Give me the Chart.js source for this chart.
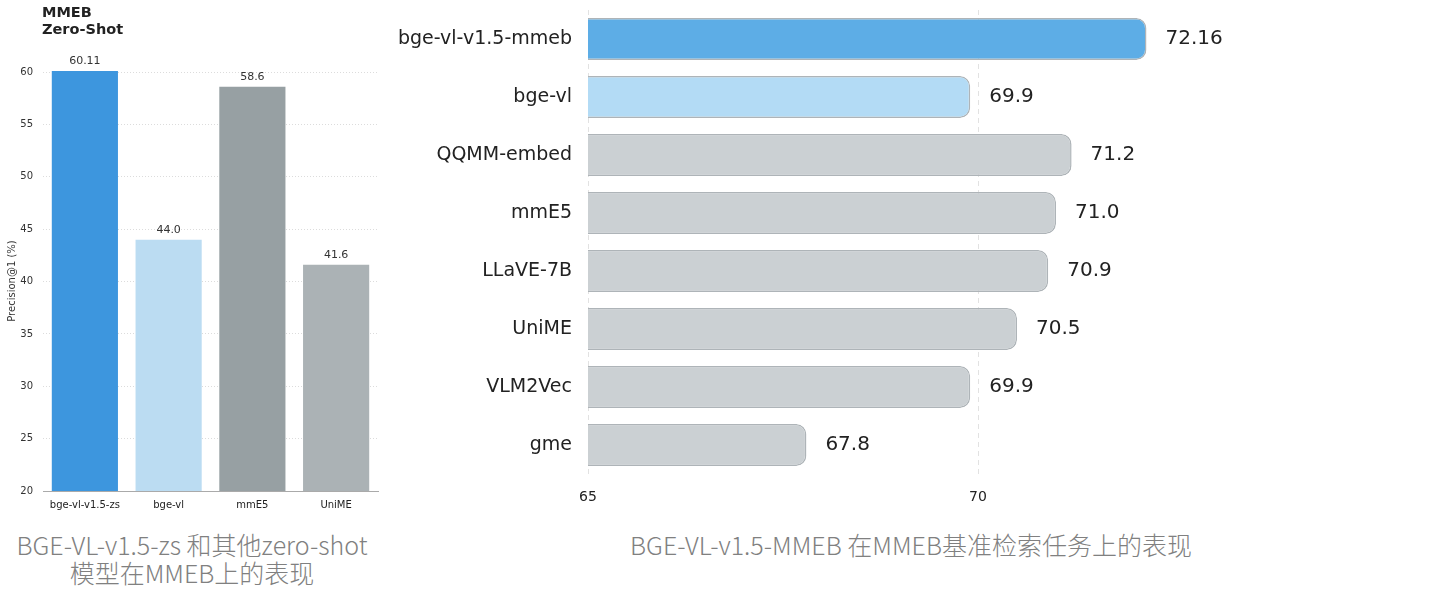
<!DOCTYPE html>
<html>
<head>
<meta charset="utf-8">
<script src="https://cdn.jsdelivr.net/npm/chart.js@4"></script>
<style>
  body { margin: 0; background: #fff; width: 1440px; height: 589px; position: relative; overflow: hidden; }
  #leftBox { position: absolute; left: 0; top: 0; width: 390px; height: 520px; }
  #rightBox { position: absolute; left: 380px; top: 0; width: 1060px; height: 520px; }
  .title { position: absolute; left: 42px; top: 4px; font: bold 14.5px "DejaVu Sans"; color: #222; line-height: 17px; }
  .caption { position: absolute; font-family: "Noto Sans CJK SC", "Noto Sans"; font-weight: 300; font-size: 25px; color: #808080; text-align: center; line-height: 28px; }
</style>
</head>
<body>
<div id="leftBox"><canvas id="leftChart"></canvas></div>
<div id="rightBox"><canvas id="rightChart"></canvas></div>
<div class="title">MMEB<br>Zero-Shot</div>
<div class="caption" style="left:0; width:384px; top:530px;">BGE-VL-v1.5-zs 和其他zero-shot<br>模型在MMEB上的表现</div>
<div class="caption" style="left:560px; width:702px; top:530px;">BGE-VL-v1.5-MMEB 在MMEB基准检索任务上的表现</div>
<script>
// left chart data (zero-shot)
const zsModels = ['bge-vl-v1.5-zs', 'bge-vl', 'mmE5', 'UniME'];
const zsScores = [60.11, 44.0, 58.6, 41.6];
const zsLabels = ['60.11', '44.0', '58.6', '41.6'];
const zsColors = ['#3d96de', '#bbdcf2', '#97a0a3', '#abb2b5'];
const zsTicks = [20, 25, 30, 35, 40, 45, 50, 55, 60];

// right chart data (MMEB)
const mmebModels = ['bge-vl-v1.5-mmeb', 'bge-vl', 'QQMM-embed', 'mmE5', 'LLaVE-7B', 'UniME', 'VLM2Vec', 'gme'];
const mmebScores = [72.16, 69.9, 71.2, 71.0, 70.9, 70.5, 69.9, 67.8];
const mmebLabels = ['72.16', '69.9', '71.2', '71.0', '70.9', '70.5', '69.9', '67.8'];
const mmebColors = ['#5dade6', '#b3dbf5', '#cbd0d3', '#cbd0d3', '#cbd0d3', '#cbd0d3', '#cbd0d3', '#cbd0d3'];
const mmebTicks = [65, 70];

Chart.defaults.font.family = '"DejaVu Sans"';
Chart.defaults.animation = false;

// draws the number next to each bar
const valueLabels = {
    id: 'valueLabels',
    afterDatasetsDraw(chart, args, opts) {
        const ctx = chart.ctx;
        const bars = chart.getDatasetMeta(0).data;
        ctx.save();
        ctx.fillStyle = opts.color;
        ctx.font = opts.size + 'px "DejaVu Sans"';
        bars.forEach((bar, i) => {
            if (opts.horizontal) {
                ctx.textAlign = 'left';
                ctx.textBaseline = 'middle';
                ctx.fillText(opts.texts[i], bar.x + opts.offset, bar.y);
            } else {
                ctx.textAlign = 'center';
                ctx.textBaseline = 'bottom';
                ctx.fillText(opts.texts[i], bar.x, bar.y - opts.offset);
            }
        });
        ctx.restore();
    }
};

new Chart(document.getElementById('leftChart'), {
    type: 'bar',
    data: {
        labels: zsModels,
        datasets: [{
            data: zsScores,
            backgroundColor: zsColors,
            barPercentage: 0.79,
            categoryPercentage: 1
        }]
    },
    options: {
        responsive: true,
        maintainAspectRatio: false,
        layout: { padding: { top: 71, right: 12, left: 6 } },
        plugins: {
            legend: { display: false },
            tooltip: { enabled: false },
            valueLabels: { texts: zsLabels, color: '#333', size: 11, offset: 4, horizontal: false }
        },
        scales: {
            x: {
                grid: { display: false },
                border: { display: true, color: '#aaa', width: 1 },
                ticks: { color: '#222', font: { size: 10 }, padding: 0 },
                afterFit: s => { s.height = 29; }
            },
            y: {
                min: 20,
                max: 60.11,
                afterBuildTicks: s => { s.ticks = zsTicks.map(v => ({ value: v })); },
                grid: { color: '#dcdcdc', drawTicks: false },
                border: { display: false, dash: [1, 2] },
                ticks: { color: '#333', font: { size: 10 }, padding: 10 },
                title: { display: true, text: 'Precision@1 (%)', color: '#333', font: { size: 10 }, padding: 0 },
                afterFit: s => { s.width = 37; s.paddingTop = 0; s.paddingBottom = 0; }
            }
        }
    },
    plugins: [valueLabels]
});

new Chart(document.getElementById('rightChart'), {
    type: 'bar',
    data: {
        labels: mmebModels,
        datasets: [{
            data: mmebScores,
            backgroundColor: mmebColors,
            borderColor: '#aeb4b8',
            borderWidth: 1.5,
            borderRadius: 10,
            borderSkipped: 'start',
            barPercentage: 0.72,
            categoryPercentage: 1
        }]
    },
    options: {
        indexAxis: 'y',
        responsive: true,
        maintainAspectRatio: false,
        layout: { padding: { top: 10, right: 150 } },
        plugins: {
            legend: { display: false },
            tooltip: { enabled: false },
            valueLabels: { texts: mmebLabels, color: '#222', size: 20, offset: 19, horizontal: true }
        },
        scales: {
            x: {
                min: 65,
                max: 74,
                afterBuildTicks: s => { s.ticks = mmebTicks.map(v => ({ value: v })); },
                grid: { color: '#e2e2e2', drawTicks: false },
                border: { display: false, dash: [5, 4] },
                ticks: { color: '#222', font: { size: 14 }, padding: 15 },
                afterFit: s => { s.height = 46; }
            },
            y: {
                grid: { display: false },
                border: { display: false },
                ticks: { color: '#222', font: { size: 19 }, padding: 8 },
                afterFit: s => { s.width = 208; s.paddingTop = 0; s.paddingBottom = 0; }
            }
        }
    },
    plugins: [valueLabels]
});
</script>
</body>
</html>
